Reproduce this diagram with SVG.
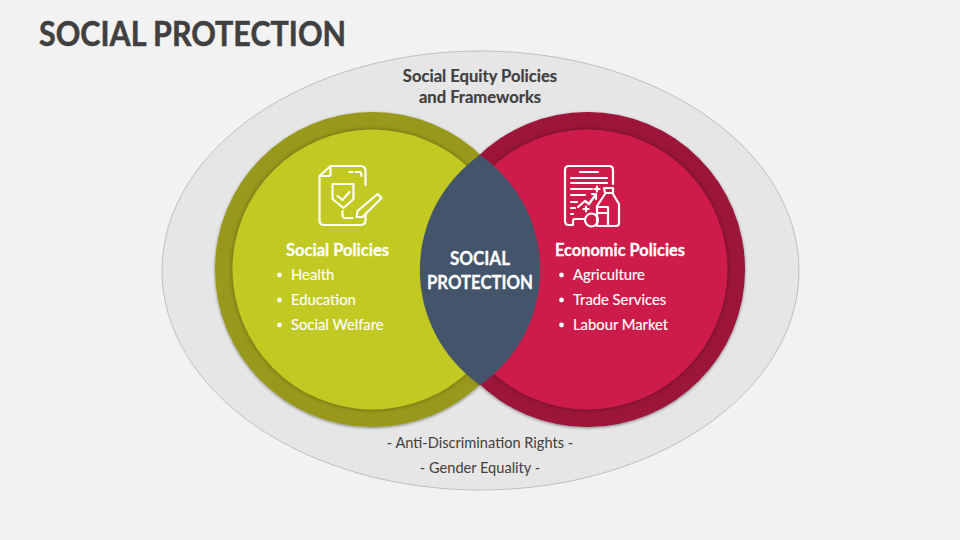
<svg xmlns="http://www.w3.org/2000/svg" width="960" height="540" viewBox="0 0 960 540">
<style>
text{font-family:Lato,"Liberation Sans",sans-serif}
.g{fill:#404040;stroke:#404040;stroke-width:.2;font-weight:700;font-size:16.6px;text-anchor:middle}
.n{fill:#404040;font-size:14.6px;text-anchor:middle}
.h{fill:#fff;stroke:#fff;stroke-width:.3;font-weight:700;font-size:17.3px;text-anchor:middle}
.b{fill:#fff;stroke:#fff;stroke-width:.15;font-size:14.8px}
.c{fill:#fff;stroke:#fff;stroke-width:.3;font-weight:700;font-size:18.6px;text-anchor:middle}
.i{fill:none;stroke:#fff;stroke-width:2.2;stroke-linecap:round;stroke-linejoin:round}
</style>
<defs>
<filter id="s" x="-10%" y="-10%" width="120%" height="120%"><feDropShadow dx="0" dy="1" stdDeviation="1.6" flood-color="#000" flood-opacity=".45"/></filter>
<filter id="t" x="-10%" y="-10%" width="120%" height="120%"><feDropShadow dx="0" dy="0" stdDeviation="2" flood-color="#000" flood-opacity=".4"/></filter>
</defs>
<rect width="960" height="540" fill="#f2f2f2"/>
<text id="title" x="39" y="45.500" textLength="307" lengthAdjust="spacingAndGlyphs" style="font-size:33.4px;font-weight:700;fill:#404040;stroke:#404040;stroke-width:.5">SOCIAL PROTECTION</text>
<g id="frame">
<ellipse cx="480.5" cy="270.5" rx="318.5" ry="219.5" fill="#e6e6e6" stroke="#bfbfbf" stroke-width="1"/>
<text class="g" x="480" y="82">Social Equity Policies</text>
<text class="g" x="480" y="103">and Frameworks</text>
<text class="n" x="480" y="448">- Anti-Discrimination Rights -</text>
<text class="n" x="480" y="473">- Gender Equality -</text>
</g>
<g id="left">
<circle cx="372.5" cy="269.5" r="157.5" fill="#98981a" filter="url(#s)"/>
</g>
<g id="right">
<circle cx="587.5" cy="269.5" r="157.5" fill="#9b1238" filter="url(#s)"/>
</g>
<g id="left-inner">
<circle cx="372.5" cy="269.5" r="140" fill="#c1c920" filter="url(#t)"/>
<g class="i" transform="translate(0.500 1)">
<path d="M330 165H360Q365 165 365 170V184M349 171H352M355 171H359Q361 171 361 175M319 175V219Q319 224 324 224H360Q365 224 365 219V213M319 175L330 165V173Q330 175 328 175H319"/>
<path d="M332 183H353V198L343 207L332 198ZM337 195L342 199L349 191"/>
<path d="M342 210V214Q342 217 345 217H352"/>
<path d="M357 210L377 193L381 197L362 216H356Z"/>
</g>
<text class="h" x="337.500" y="256" textLength="103" lengthAdjust="spacingAndGlyphs">Social Policies</text>
<circle cx="279.500" cy="275" r="2.400" fill="#fff"/><text class="b" x="291" y="280">Health</text>
<circle cx="279.500" cy="300" r="2.400" fill="#fff"/><text class="b" x="291" y="305">Education</text>
<circle cx="279.500" cy="325" r="2.400" fill="#fff"/><text class="b" x="291" y="330">Social Welfare</text>
</g>
<g id="right-inner">
<circle cx="587.5" cy="269.5" r="140" fill="#cd1a4a" filter="url(#t)"/>
<g class="i" transform="translate(0 1)">
<path d="M573 224H569Q565 224 565 220V169Q565 165 569 165H609Q613 165 613 169V183"/>
<path d="M580 171H598M571 177H607M571 182H607M571 188H592M571 194H585M571 201H577M571 207H575M571 213H573"/>
<path d="M578 206L585 200L589 203L596 193M592 193H596V198M594.500 188H599.500M597 185.500V190.500M583.500 208H588.500M586 205.500V210.500"/>
<path d="M604 187H613V192H605ZM605 193L597 205V225M613 193L619 203V222Q619 225 616 225H599"/>
<path d="M597 206H608M597 212H608M608 206V225"/>
<path d="M573 224V220Q573 218 575 218H585"/>
<circle cx="591.500" cy="219" r="6.500"/>
</g>
<text class="h" x="620" y="256" textLength="130" lengthAdjust="spacingAndGlyphs">Economic Policies</text>
<circle cx="561.500" cy="275" r="2.400" fill="#fff"/><text class="b" x="573" y="280">Agriculture</text>
<circle cx="561.500" cy="300" r="2.400" fill="#fff"/><text class="b" x="573" y="305">Trade Services</text>
<circle cx="561.500" cy="325" r="2.400" fill="#fff"/><text class="b" x="573" y="330">Labour Market</text>
</g>
<g id="center">
<path d="M480 155A140 140 0 0 0 480 385A140 140 0 0 0 480 155Z" fill="#44546a"/>
<text class="c" x="480" y="265" textLength="60" lengthAdjust="spacingAndGlyphs">SOCIAL</text>
<text class="c" x="480" y="289" textLength="106" lengthAdjust="spacingAndGlyphs">PROTECTION</text>
</g>
<g id="connectors"/>
</svg>
